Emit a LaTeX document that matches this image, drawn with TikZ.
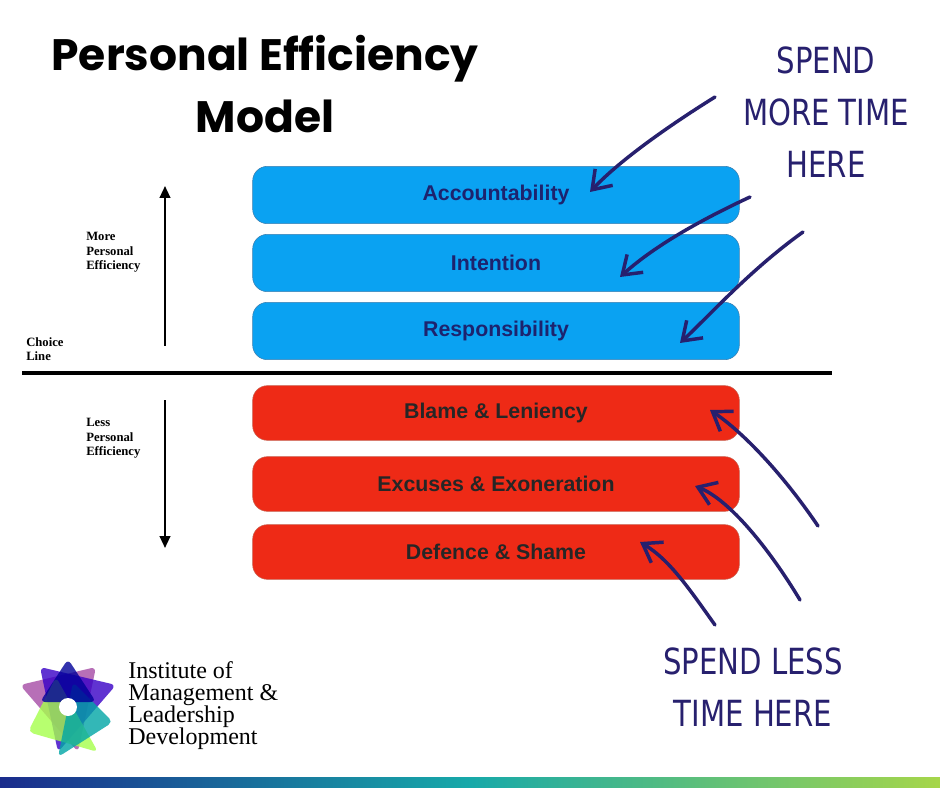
\documentclass[tikz,border=0pt]{standalone}
\usepackage{fontspec}
\setmainfont{Liberation Serif}
\setsansfont{Liberation Sans}
\newfontfamily\titlefont{Poppins}
\newfontfamily\handfont{DejaVu Sans Condensed}
\usetikzlibrary{positioning,arrows.meta}
\definecolor{skyblue}{HTML}{0AA2F2}
\definecolor{skyedge}{HTML}{3C7FB0}
\definecolor{firered}{HTML}{EE2A16}
\definecolor{fireedge}{HTML}{C8604F}
\definecolor{inknavy}{HTML}{27206E}
\definecolor{boxtext}{HTML}{1D236E}
\definecolor{barnavy}{HTML}{1A2C8C}
\definecolor{barteal}{HTML}{17A9A9}
\definecolor{barlime}{HTML}{A6D64A}
\tikzset{
  level/.style = {rounded corners=11pt, minimum width=365pt,
    font=\sffamily\bfseries\fontsize{16}{19}\selectfont},
  lvl_up/.style = {level, fill=skyblue, draw=skyedge, text=boxtext,
    minimum height=43pt},% niveau au-dessus
  lvl_dn/.style = {level, fill=firered, draw=fireedge, text=black!85,
    minimum height=41pt},% niveau au-dessous
  side/.style = {font=\bfseries\fontsize{9.5}{11}\selectfont, align=left,
    anchor=north west, inner sep=0pt},
  hand/.style = {inknavy, line width=2.6pt, line cap=round,
    -{Straight Barb[length=13pt,width=18pt,line width=2.6pt]}},
  handtext/.style = {inknavy, font=\handfont\fontsize{27}{39}\selectfont,
    align=center, xscale=0.9},
  petal/.style = {opacity=0.8, rounded corners=4pt}
}
\begin{document}
\begin{tikzpicture}[x=0.75pt,y=-0.75pt]
\useasboundingbox (0,0) rectangle (940,788);
\fill[white] (0,0) rectangle (940,788);
% title
\node[font=\titlefont\bfseries\fontsize{33}{47}\selectfont, align=center]
  (title) at (265,84) {Personal Efficiency\\Model};
% levels
\node[lvl_up] (acc) at (496,195) {Accountability};
\node[lvl_up] (int) at (496,263) {Intention};
\node[lvl_up] (res) at (496,331) {Responsibility};
\node[lvl_dn] (bla) at (496,413) {Blame \& Leniency};
\node[lvl_dn] (exc) at (496,484) {Excuses \& Exoneration};
\node[lvl_dn] (def) at (496,552) {Defence \& Shame};
% choice line and axis
\coordinate (cl_w) at (22,373);
\coordinate (cl_e) at (832,373);
\draw[line width=3.2pt] (cl_w) -- (cl_e);
\coordinate (up_a) at (165,346); \coordinate (up_b) at (165,186);
\coordinate (dn_a) at (165,400); \coordinate (dn_b) at (165,548);
\draw[line width=1.6pt,-{Triangle[length=9pt,width=8pt]}] (up_a) -- (up_b);
\draw[line width=1.6pt,-{Triangle[length=9pt,width=8pt]}] (dn_a) -- (dn_b);
\node[side] (more) at (86,232) {More\\Personal\\Efficiency};
\node[side] (less) at (86,418) {Less\\Personal\\Efficiency};
\node[side] (choice) at (26,337) {Choice\\Line};
% hand notes
\node[handtext] (moretime) at (826,112) {SPEND\\MORE TIME\\HERE};
\node[handtext] (lesstime) at (753,687) {SPEND LESS\\TIME HERE};
\coordinate (h1) at (715,97);  \coordinate (h2) at (750,197);
\coordinate (h3) at (803,232); \coordinate (h4) at (818,526);
\coordinate (h5) at (800,600); \coordinate (h6) at (715,625);
\draw[hand] (h1) .. controls (670,125) and (620,160) .. (590,192);
\draw[hand] (h2) .. controls (690,225) and (650,250) .. (620,277);
\draw[hand] (h3) .. controls (750,270) and (710,315) .. (680,343);
\draw[hand] (h4) .. controls (780,470) and (740,430) .. (710,410);
\draw[hand] (h5) .. controls (770,550) and (730,500) .. (695,486);
\draw[hand] (h6) .. controls (690,590) and (670,560) .. (640,542);
% logo
\begin{scope}[shift={(68,707)}]
  \fill[petal,fill=violet!70] (-48,-22) -- (28,-40) -- (10,45) -- cycle;
  \fill[petal,fill=blue!55!violet] (48,-22) -- (-28,-40) -- (-10,45) -- cycle;
  \fill[petal,fill=green!50!yellow!70] (-40,25) -- (30,45) -- (-12,-30) -- cycle;
  \fill[petal,fill=teal!70!cyan] (45,15) -- (-10,50) -- (5,-25) -- cycle;
  \fill[petal,fill=blue!60!black] (0,-48) -- (-28,-5) -- (28,-5) -- cycle;
  \fill[white] (0,0) circle (9);
\end{scope}
\node[anchor=north west, inner sep=0pt, align=left,
  font=\fontsize{18}{16.5}\selectfont] (imld) at (128,661)
  {Institute of\\Management \&\\Leadership\\Development};
% bottom bar
\shade[left color=barnavy, right color=barteal] (0,777) rectangle (470,788);
\shade[left color=barteal, right color=barlime] (470,777) rectangle (940,788);
\end{tikzpicture}
\end{document}
